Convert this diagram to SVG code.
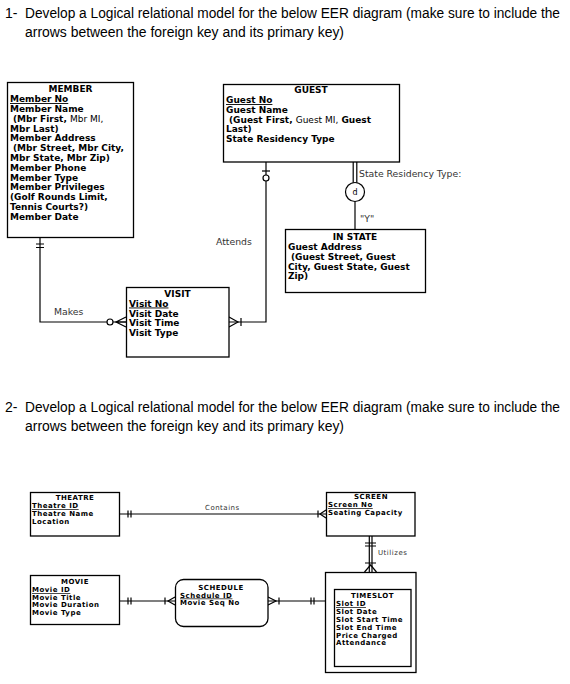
<svg xmlns="http://www.w3.org/2000/svg" width="570" height="684" viewBox="0 0 570 684">
<style>
.q{font-family:"Liberation Sans","DejaVu Sans",sans-serif;font-size:14px;fill:#000}
.box{fill:#fff;stroke:#000;stroke-width:1.3}
.t1{font-family:"DejaVu Sans",Verdana,sans-serif;font-size:9px;font-weight:bold;fill:#000}
.t2{font-family:"DejaVu Sans",Verdana,sans-serif;font-size:7px;font-weight:bold;fill:#000;letter-spacing:0.5px}
.h{text-anchor:middle}
.n{font-weight:normal}
.u{text-decoration:underline}
.lb1{font-family:"DejaVu Sans",Verdana,sans-serif;font-size:9.3px;fill:#333}
.lb2{font-family:"DejaVu Sans",Verdana,sans-serif;font-size:7px;fill:#333;letter-spacing:0.5px}
.ln{fill:none;stroke:#000;stroke-width:1.2}
.c{fill:#fff;stroke:#000;stroke-width:1.2}
</style>

<g id="question1">
<text class="q" x="5" y="18">1-</text>
<text class="q" x="25" y="18" textLength="535" lengthAdjust="spacingAndGlyphs">Develop a Logical relational model for the below EER diagram (make sure to include the</text>
<text class="q" x="25" y="37" textLength="319" lengthAdjust="spacingAndGlyphs">arrows between the foreign key and its primary key)</text>
</g>

<g id="connectors1">
<path class="ln" d="M40,237 V322 H107 M113,322 H126"/>
<path class="ln" d="M36,244 H44 M36,247.5 H44"/>
<circle class="c" cx="110" cy="322" r="3"/>
<path class="ln" d="M126,317 L116,322 L126,327 M116,322 H126"/>
<path class="ln" d="M266,162 V175 M266,181 V322 H229"/>
<path class="ln" d="M262,171 H270"/>
<circle class="c" cx="266" cy="178" r="3"/>
<path class="ln" d="M229,317 L238,322 L229,327 M241,318 V326"/>
<path class="ln" d="M353.2,162 V183 M356.8,162 V183"/>
<circle class="c" cx="355" cy="192" r="9.5"/>
<text x="355" y="195" text-anchor="middle" font-family="DejaVu Sans, sans-serif" font-size="8" fill="#000">d</text>
<path class="ln" d="M355,201.5 V229"/>
<text class="lb1" x="54" y="315">Makes</text>
<text class="lb1" x="216" y="245">Attends</text>
<text class="lb1" x="359" y="177">State Residency Type:</text>
<text class="lb1" x="360" y="222" font-size="7.5">"Y"</text>
</g>

<g id="member">
<rect class="box" x="7.5" y="82.5" width="126" height="155"/>
<text class="t1 h" x="70.5" y="92">MEMBER</text>
<text class="t1 u" x="10" y="102">Member No</text>
<text class="t1" x="10" y="112">Member Name</text>
<text class="t1" x="13" y="121.5">(Mbr First, <tspan class="n">Mbr MI,</tspan></text>
<text class="t1" x="10" y="131.5">Mbr Last)</text>
<text class="t1" x="10" y="141">Member Address</text>
<text class="t1" x="13" y="151">(Mbr Street, Mbr City,</text>
<text class="t1" x="10" y="161">Mbr State, Mbr Zip)</text>
<text class="t1" x="10" y="170.5">Member Phone</text>
<text class="t1" x="10" y="180.5">Member Type</text>
<text class="t1" x="10" y="190">Member Privileges</text>
<text class="t1" x="10" y="200">(Golf Rounds Limit,</text>
<text class="t1" x="10" y="210">Tennis Courts?)</text>
<text class="t1" x="10" y="219.5">Member Date</text>
</g>

<g id="guest">
<rect class="box" x="223.5" y="84.5" width="176" height="77.5"/>
<text class="t1 h" x="311" y="93">GUEST</text>
<text class="t1 u" x="226" y="103">Guest No</text>
<text class="t1" x="226" y="112.5">Guest Name</text>
<text class="t1" x="229" y="122.5">(Guest First, <tspan class="n">Guest MI,</tspan> Guest</text>
<text class="t1" x="226" y="132">Last)</text>
<text class="t1" x="226" y="142">State Residency Type</text>
</g>

<g id="instate">
<rect class="box" x="285.5" y="229.5" width="140" height="63"/>
<text class="t1 h" x="355" y="240">IN STATE</text>
<text class="t1" x="288" y="250">Guest Address</text>
<text class="t1" x="291" y="259.5">(Guest Street, Guest</text>
<text class="t1" x="288" y="269.5">City, Guest State, Guest</text>
<text class="t1" x="288" y="279">Zip)</text>
</g>

<g id="visit">
<rect class="box" x="126.5" y="287.5" width="102.5" height="69.5"/>
<text class="t1 h" x="177.5" y="297">VISIT</text>
<text class="t1 u" x="129" y="306.5">Visit No</text>
<text class="t1" x="129" y="316.5">Visit Date</text>
<text class="t1" x="129" y="326">Visit Time</text>
<text class="t1" x="129" y="336">Visit Type</text>
</g>

<g id="question2">
<text class="q" x="5" y="412">2-</text>
<text class="q" x="25" y="412" textLength="535" lengthAdjust="spacingAndGlyphs">Develop a Logical relational model for the below EER diagram (make sure to include the</text>
<text class="q" x="25" y="431" textLength="319" lengthAdjust="spacingAndGlyphs">arrows between the foreign key and its primary key)</text>
</g>

<g id="connectors2">
<path class="ln" d="M120,514 H326"/>
<path class="ln" d="M128,510.5 V517.5 M131,510.5 V517.5"/>
<path class="ln" d="M318,510.5 V517.5 M326,510 L320,514 L326,518"/>
<text class="lb2" x="205" y="510">Contains</text>
<path class="ln" d="M369.3,536 V572 M372,536 V572"/>
<path class="ln" d="M365,543 H376 M365,546 H376"/>
<path class="ln" d="M365,563 H376 M364.5,572 L370.6,565 L376.5,572"/>
<text class="lb2" x="378" y="555">Utilizes</text>
<path class="ln" d="M120,601 H175"/>
<path class="ln" d="M128,597.5 V604.5 M131,597.5 V604.5"/>
<path class="ln" d="M165,597.5 V604.5 M175,597 L168,601 L175,605"/>
<path class="ln" d="M268,601 H325"/>
<path class="ln" d="M268,597 L276,601 L268,605 M279,597.5 V604.5"/>
<path class="ln" d="M311,597.5 V604.5 M314,597.5 V604.5"/>
</g>

<g id="theatre">
<rect class="box" x="30.5" y="492.5" width="89" height="43.5"/>
<text class="t2 h" x="75" y="500">THEATRE</text>
<text class="t2 u" x="32" y="508">Theatre ID</text>
<text class="t2" x="32" y="516">Theatre Name</text>
<text class="t2" x="32" y="524">Location</text>
</g>

<g id="screen">
<rect class="box" x="326.5" y="492.5" width="88.5" height="43.5"/>
<text class="t2 h" x="371" y="499">SCREEN</text>
<text class="t2 u" x="328" y="507">Screen No</text>
<text class="t2" x="328" y="515">Seating Capacity</text>
</g>

<g id="movie">
<rect class="box" x="30.5" y="575.5" width="89" height="49"/>
<text class="t2 h" x="75" y="584">MOVIE</text>
<text class="t2 u" x="32" y="592">Movie ID</text>
<text class="t2" x="32" y="599.5">Movie Title</text>
<text class="t2" x="32" y="607">Movie Duration</text>
<text class="t2" x="32" y="614.5">Movie Type</text>
</g>

<g id="schedule">
<rect class="box" x="175.5" y="579.5" width="92.5" height="47" rx="8"/>
<text class="t2 h" x="221" y="590">SCHEDULE</text>
<text class="t2 u" x="180" y="597.5">Schedule ID</text>
<text class="t2" x="180" y="605">Movie Seq No</text>
</g>

<g id="timeslot">
<rect class="box" x="325.5" y="572.5" width="90.5" height="100"/>
<rect class="box" x="334.5" y="589.5" width="76.5" height="77"/>
<text class="t2 h" x="372.5" y="598">TIMESLOT</text>
<text class="t2 u" x="336" y="606">Slot ID</text>
<text class="t2" x="336" y="614">Slot Date</text>
<text class="t2" x="336" y="622">Slot Start Time</text>
<text class="t2" x="336" y="630">Slot End Time</text>
<text class="t2" x="336" y="637.5">Price Charged</text>
<text class="t2" x="336" y="645">Attendance</text>
</g>
</svg>
